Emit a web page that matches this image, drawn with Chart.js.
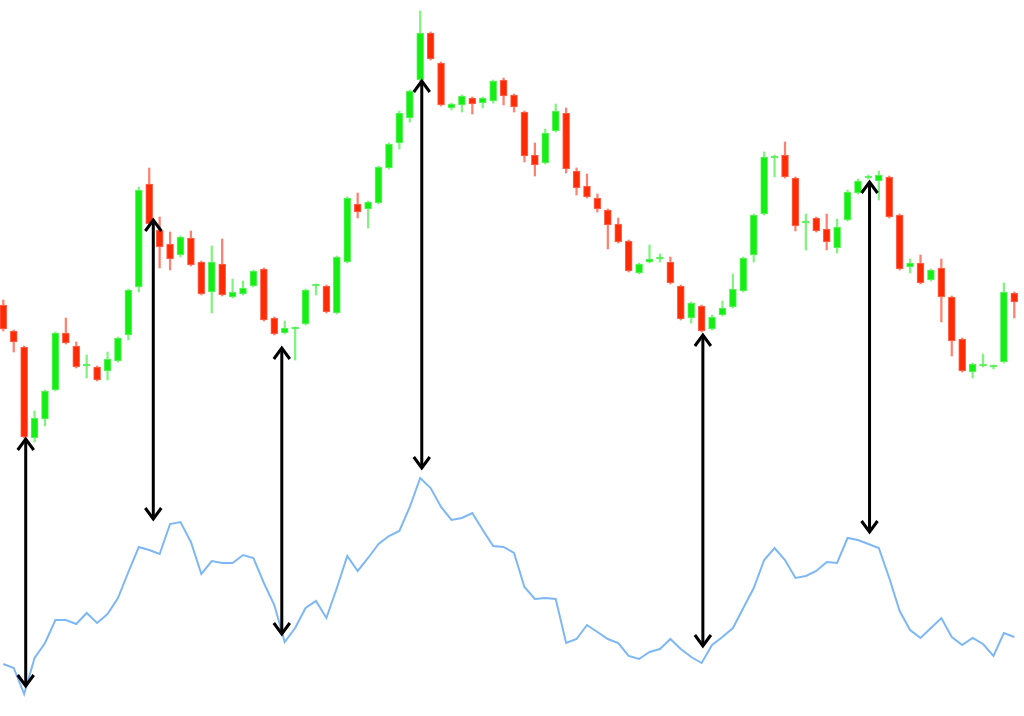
<!DOCTYPE html>
<html>
<head>
<meta charset="utf-8">
<title>Candles and oscillator</title>
<script src="https://cdn.jsdelivr.net/npm/chart.js@4.4.1/dist/chart.umd.min.js"></script>
<style>
  html, body { margin: 0; padding: 0; background: #fff; }
  #wrap { width: 1024px; height: 716px; }
</style>
</head>
<body>
<div id="wrap"><canvas id="chart" width="1024" height="716"></canvas></div>
<script>
// price candles, one per session
var open  = [411, 385, 369, 278, 297, 326, 383, 370, 350, 349, 345, 355, 381, 429, 532, 486, 472, 461, 478, 454,
             424, 452, 419, 422, 430, 447, 398, 383, 387, 392, 430, 430, 403, 454, 512, 507, 513, 548, 573, 598,
             636, 683, 653, 608, 611, 618, 613, 615, 636, 621, 604, 561, 553, 585, 603, 545, 530, 518, 506, 492,
             475, 443, 454, 457, 454, 430, 398, 410, 387, 401, 409, 425, 461, 502, 558, 561, 538, 493, 498, 487,
             468, 496, 523, 538, 535, 539, 501, 449, 453, 436, 448, 419, 377, 344, 350, 349, 354, 423];
var high  = [416, 386, 370, 305, 326, 384, 398, 374, 361, 350, 364, 379, 427, 529, 548, 499, 484, 480, 485, 455,
             470, 477, 437, 435, 446, 448, 399, 395, 389, 427, 432, 431, 460, 519, 523, 515, 550, 573, 605, 626,
             705, 684, 654, 613, 621, 619, 619, 636, 638, 622, 605, 573, 587, 612, 608, 548, 542, 522, 507, 498,
             476, 453, 471, 462, 459, 431, 414, 411, 401, 415, 442, 459, 502, 564, 561, 574, 539, 502, 499, 502,
             497, 526, 537, 541, 545, 540, 502, 457, 461, 447, 457, 420, 378, 353, 362, 351, 433, 424];
var low   = [385, 364, 278, 274, 290, 325, 372, 348, 338, 335, 336, 354, 376, 424, 491, 448, 446, 459, 450, 421,
             403, 420, 418, 421, 429, 395, 381, 382, 356, 391, 421, 403, 402, 453, 498, 488, 512, 547, 567, 594,
             635, 656, 610, 606, 604, 602, 608, 613, 611, 604, 554, 540, 552, 584, 543, 521, 518, 504, 467, 473,
             444, 442, 453, 454, 432, 396, 393, 384, 386, 400, 408, 424, 454, 501, 539, 538, 485, 466, 484, 466,
             463, 495, 522, 537, 516, 498, 446, 443, 432, 435, 394, 360, 344, 338, 349, 347, 353, 398];
var close = [387, 374, 279, 298, 325, 383, 373, 349, 352, 336, 357, 378, 426, 526, 492, 469, 457, 479, 451, 422,
             454, 421, 424, 428, 445, 396, 382, 388, 388, 426, 432, 404, 459, 518, 504, 514, 549, 572, 603, 625,
             683, 657, 611, 612, 620, 612, 618, 635, 620, 609, 560, 551, 583, 605, 547, 528, 519, 507, 491, 474,
             445, 452, 457, 458, 433, 397, 413, 385, 399, 408, 427, 458, 501, 559, 560, 539, 490, 495, 485, 474,
             489, 524, 535, 540, 541, 499, 447, 453, 433, 446, 419, 375, 345, 352, 351, 350, 424, 414];

// oscillator drawn under the price
var oscillator = [52, 48, 22, 58, 73, 96, 96, 92, 103, 93, 102, 118, 144, 169, 166, 162, 192, 194, 174, 142,
                  155, 153, 153, 161, 158, 133, 111, 74, 88, 108, 115, 98, 128, 160, 145, 158, 172, 180, 185, 209,
                  238, 228, 209, 196, 198, 203, 186, 170, 169, 163, 129, 117, 118, 117, 73, 77, 91, 84, 77, 73,
                  60, 57, 64, 67, 77, 67, 59, 53, 71, 79, 88, 108, 128, 156, 168, 156, 138, 140, 145, 154,
                  153, 178, 176, 172, 168, 138, 105, 86, 78, 88, 98, 79, 71, 78, 72, 60, 83, 79];

// double arrows linking price turns to oscillator turns
var arrowAt     = [2.15, 14.39, 26.72, 40.15, 67.12, 83.11];
var arrowTop    = [279, 498, 370, 637, 383, 536];
var arrowBottom = [28, 195, 80, 246, 68, 182];

var UP = '#14ee14', DOWN = '#ff2b05';
var UP_EDGE = '#66f266', DOWN_EDGE = '#ff6a55';
var UP_WICK = '#80f380', DOWN_WICK = '#ff8070';

function isUp(i) { return close[i] >= open[i]; }

var bodies = open.map(function(o, i) { return { x: i, y: [o, close[i]] }; });
var wicks = high.map(function(h, i) { return { x: i, y: [low[i], h] }; });
var oscPoints = oscillator.map(function(v, i) { return { x: i, y: v }; });

var arrowPlugin = {
    id: 'arrows',
    afterDatasetsDraw: function(chart) {
        var ctx = chart.ctx;
        var x = chart.scales.x, y = chart.scales.y;
        ctx.save();
        ctx.strokeStyle = '#000';
        ctx.lineWidth = 3;
        ctx.lineJoin = 'miter';
        arrowAt.forEach(function(pos, i) {
            var px = x.getPixelForValue(pos);
            var top = y.getPixelForValue(arrowTop[i]);
            var bot = y.getPixelForValue(arrowBottom[i]);
            ctx.beginPath();
            ctx.moveTo(px, top + 2);
            ctx.lineTo(px, bot - 2);
            ctx.stroke();
            ctx.beginPath();
            ctx.moveTo(px - 8, top + 13);
            ctx.lineTo(px, top + 2);
            ctx.lineTo(px + 8, top + 13);
            ctx.stroke();
            ctx.beginPath();
            ctx.moveTo(px - 8, bot - 13);
            ctx.lineTo(px, bot - 2);
            ctx.lineTo(px + 8, bot - 13);
            ctx.stroke();
        });
        ctx.restore();
    }
};

var chart = new Chart(document.getElementById('chart').getContext('2d'), {
    type: 'bar',
    data: {
        datasets: [{
            label: 'Body',
            data: bodies,
            grouped: false,
            barThickness: 7,
            minBarLength: 2,
            borderWidth: 1,
            borderSkipped: false,
            backgroundColor: function(c) { return isUp(c.dataIndex) ? UP : DOWN; },
            borderColor: function(c) { return isUp(c.dataIndex) ? UP_EDGE : DOWN_EDGE; }
        }, {
            label: 'Wick',
            data: wicks,
            grouped: false,
            barThickness: 1.6,
            borderWidth: 0,
            backgroundColor: function(c) { return isUp(c.dataIndex) ? UP_WICK : DOWN_WICK; }
        }, {
            type: 'line',
            label: 'Oscillator',
            data: oscPoints,
            borderColor: '#7db7f4',
            borderWidth: 2,
            pointRadius: 0,
            tension: 0,
            fill: false
        }]
    },
    options: {
        responsive: false,
        animation: false,
        layout: { padding: 0 },
        plugins: {
            legend: { display: false },
            tooltip: { enabled: false }
        },
        scales: {
            x: { type: 'linear', min: -0.317, max: 97.93, offset: false, display: false },
            y: { min: 0, max: 716, display: false }
        }
    },
    plugins: [arrowPlugin]
});
</script>
</body>
</html>
